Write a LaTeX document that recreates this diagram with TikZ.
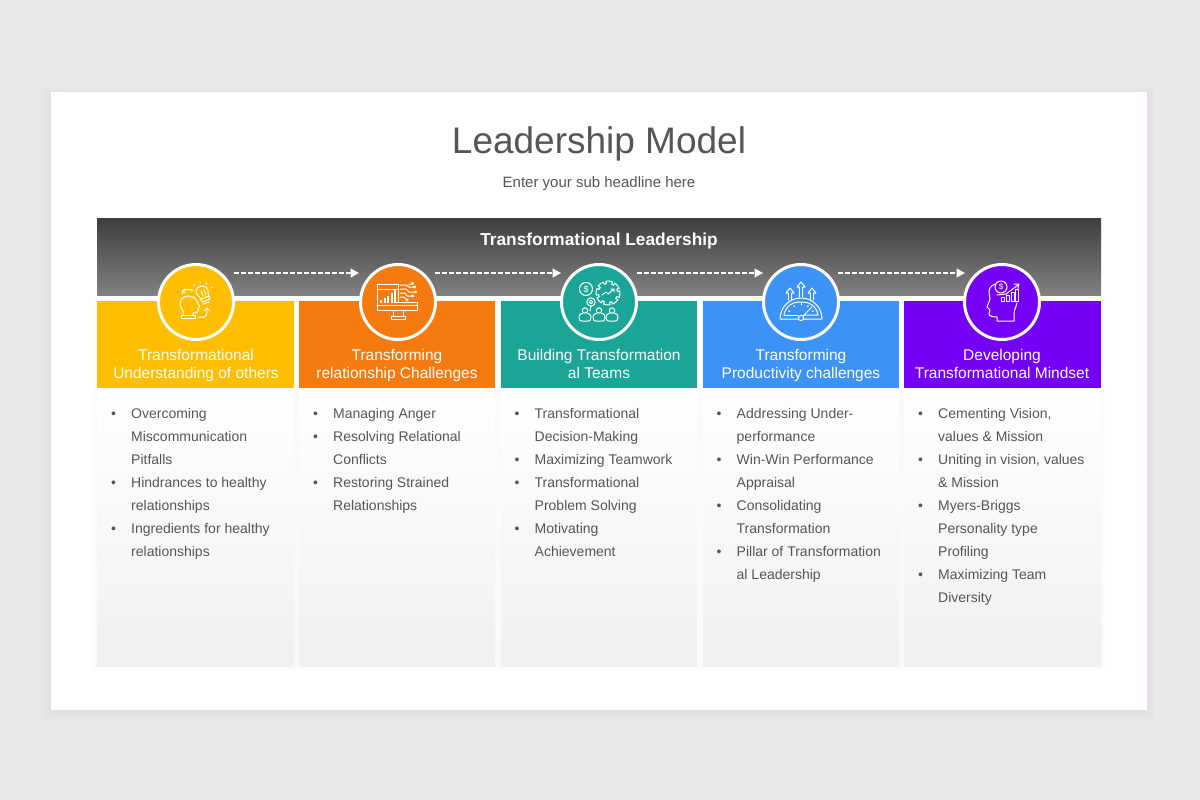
\documentclass[tikz,border=0pt]{standalone}
\usepackage{fontspec}
\setmainfont{Liberation Sans}
\usetikzlibrary{arrows.meta}
\definecolor{pagebg}{HTML}{E9E7E9}
\definecolor{inktext}{HTML}{555555}
\definecolor{cyellow}{HTML}{FFBE00}
\definecolor{corange}{HTML}{F57B10}
\definecolor{cteal}{HTML}{1BA596}
\definecolor{cblue}{HTML}{3D93F5}
\definecolor{cviolet}{HTML}{7500F5}
\definecolor{bandtop}{HTML}{3E3E3E}
\definecolor{bandmid}{HTML}{666666}
\definecolor{bandbot}{HTML}{828282}
\definecolor{bodybot}{HTML}{F0F0F1}
\newcommand{\bul}[1]{\hspace*{-2pt}\makebox[20pt][l]{•}#1\\}
\newcommand{\cnt}[1]{\makebox[18pt][l]{}#1\\}
\newcommand{\softshadow}[6]{%
  \foreach \k in {1,...,#5}{%
    \fill[black,opacity=#6] (#1-\k,#2-\k+3) rectangle (#3+\k,#4+\k+2);}}
\tikzset{
  ic/.style={draw=white,line width=1pt,line cap=round,line join=round,fill=none},
  headcard/.style={minimum height=87pt,inner sep=0pt,outer sep=0pt},
  cardtitle/.style={text=white,font=\fontsize{15.5}{18}\selectfont,align=center,anchor=north,inner sep=0pt},
  listtext/.style={text=inktext,font=\fontsize{14}{23}\selectfont,align=left,anchor=north west,inner sep=0pt},
  disc/.style={circle,draw=white,line width=3pt,minimum size=75pt,inner sep=0pt},
  flow/.style={draw=white,line width=1.3pt,dash pattern=on 5pt off 2pt,-{Triangle[length=8.5pt,width=9pt,fill=white]}}
}
\begin{document}
\begin{tikzpicture}[x=1pt,y=-1pt]
\useasboundingbox (0,0) rectangle (1200,800);
\fill[pagebg] (0,0) rectangle (1200,800);
% slide
\softshadow{51}{92}{1147}{710}{8}{0.005}
\node[fill=white,minimum width=1096pt,minimum height=618pt,inner sep=0pt,outer sep=0pt] (slide) at (599,401) {};
\node[text=inktext,font=\fontsize{37}{44}\selectfont,inner sep=0pt] (title) at (599,144) {Leadership Model};
\node[text=inktext,font=\fontsize{15}{18}\selectfont,inner sep=0pt] (sub) at (599,183.5) {Enter your sub headline here};
% band
\node[top color=bandtop,middle color=bandmid,bottom color=bandbot,minimum width=1004pt,minimum height=78pt,inner sep=0pt,outer sep=0pt] (band) at (599,257) {};
\node[text=white,font=\fontsize{17.3}{20}\selectfont\bfseries,inner sep=0pt] (bandtitle) at (599,241.5) {Transformational Leadership};
\fill[white] (97,296) rectangle (1101,301);
% bodies
\foreach \a/\b in {97/294,299/495,501/697,703/899,904/1101}{
  \softshadow{\a}{388}{\b}{664}{5}{0.004}
}
\foreach \n/\a/\w in {1/97/197,2/299/196,3/501/196,4/703/196,5/904/197}{
  \node[top color=white,bottom color=bodybot,minimum width=\w pt,minimum height=278pt,inner sep=0pt,outer sep=0pt,anchor=north west] (body\n) at (\a,388) {};
}
% coloured cards
\node[headcard,fill=cyellow,minimum width=197pt,anchor=north west] (card1) at (97,301) {};
\node[headcard,fill=corange,minimum width=196pt,anchor=north west] (card2) at (299,301) {};
\node[headcard,fill=cteal,minimum width=196pt,anchor=north west] (card3) at (501,301) {};
\node[headcard,fill=cblue,minimum width=196pt,anchor=north west] (card4) at (703,301) {};
\node[headcard,fill=cviolet,minimum width=197pt,anchor=north west] (card5) at (904,301) {};
\node[cardtitle] (t1) at (196,349.5) {Transformational\\Understanding of others};
\node[cardtitle] (t2) at (397,349.5) {Transforming\\relationship Challenges};
\node[cardtitle] (t3) at (599,349.5) {Building Transformation\\al Teams};
\node[cardtitle] (t4) at (801,349.5) {Transforming\\Productivity challenges};
\node[cardtitle] (t5) at (1002,349.5) {Developing\\Transformational Mindset};
% lists
\node[listtext] (l1) at (113,408) {\bul{Overcoming}\cnt{Miscommunication}\cnt{Pitfalls}\bul{Hindrances to healthy}\cnt{relationships}\bul{Ingredients for healthy}\cnt{relationships}};
\node[listtext] (l2) at (315,408) {\bul{Managing Anger}\bul{Resolving Relational}\cnt{Conflicts}\bul{Restoring Strained}\cnt{Relationships}};
\node[listtext] (l3) at (516.5,408) {\bul{Transformational}\cnt{Decision-Making}\bul{Maximizing Teamwork}\bul{Transformational}\cnt{Problem Solving}\bul{Motivating}\cnt{Achievement}};
\node[listtext] (l4) at (718.5,408) {\bul{Addressing Under-}\cnt{performance}\bul{Win-Win Performance}\cnt{Appraisal}\bul{Consolidating}\cnt{Transformation}\bul{Pillar of Transformation}\cnt{al Leadership}};
\node[listtext] (l5) at (920,408) {\bul{Cementing Vision,}\cnt{values \& Mission}\bul{Uniting in vision, values}\cnt{\& Mission}\bul{Myers-Briggs}\cnt{Personality type}\cnt{Profiling}\bul{Maximizing Team}\cnt{Diversity}};
% discs
\node[disc,fill=cyellow] (c1) at (196,302) {};
\node[disc,fill=corange] (c2) at (398,302) {};
\node[disc,fill=cteal] (c3) at (599,302) {};
\node[disc,fill=cblue] (c4) at (801,302) {};
\node[disc,fill=cviolet] (c5) at (1002,302) {};
% flow arrows
\coordinate (a1) at (234,273); \coordinate (b1) at (359,273);
\coordinate (a2) at (435,273); \coordinate (b2) at (561,273);
\coordinate (a3) at (637,273); \coordinate (b3) at (763,273);
\coordinate (a4) at (838,273); \coordinate (b4) at (965,273);
\draw[flow] (a1) -- (b1);
\draw[flow] (a2) -- (b2);
\draw[flow] (a3) -- (b3);
\draw[flow] (a4) -- (b4);
% icon 1
\begin{scope}[shift={(196,302)}]
  \draw[ic] (-3,13) -- (-3,11) .. controls (2,11) and (3,9) .. (2,6) -- (4,4) -- (2,2) .. controls (1,-4) and (-4,-6) .. (-8,-6) .. controls (-13,-6) and (-16,-2) .. (-16,2) .. controls (-16,5) and (-14,7) .. (-13,9) -- (-13,13);
  \draw[ic] (-15,13) rectangle (-1,16);
  \draw[ic] (5,-3) .. controls (4,-6) and (0,-7) .. (0,-11) .. controls (0,-14) and (3,-16) .. (6,-16) .. controls (10,-16) and (13,-13) .. (12,-9) .. controls (12,-8) and (12,-7) .. (13,-6);
  \draw[ic] (5,-3) -- (13,-6) -- (14,-3) -- (6,0) -- cycle (7,2) -- (13,0);
  \draw[ic] (5,-11) -- (7,-6) (8,-12) -- (10,-7);
  \foreach \ang in {170,135,100,65,30}{\draw[ic,line width=0.8pt] (6,-9) ++(-\ang:10) -- ++(-\ang:2);}
  \draw[ic] (-3,-12) .. controls (-7,-13) and (-13,-13) .. (-14,-8);
  \draw[ic] (-11,-13) -- (-14,-11) -- (-11,-9);
  \draw[ic] (2,15) -- (8,15) .. controls (10,15) and (11,13) .. (11,7);
  \draw[ic] (8,9) -- (11,6) -- (14,9);
\end{scope}
% icon 2
\begin{scope}[shift={(398,302)}]
  \draw[ic] (0,0) -- (0,-18) -- (-21,-18) -- (-21,8) -- (19,8) -- (19,0) -- (-2,0);
  \draw[ic] (-21,-13) -- (0,-13);
  \draw[ic] (-21,3) -- (19,3);
  \draw[ic] (-5,8) -- (-5,14) (5,8) -- (5,14) (-7,14) -- (7,14) -- (7,17) -- (-7,17) -- cycle;
  \foreach \xx/\yy in {-18/-2,-14.5/-4,-11/-6,-7.5/-9,-4/-12}{\fill[white] (\xx,1) rectangle (\xx+2.4,\yy);}
  \draw[ic] (2,-17) -- (8,-17) -- (11,-15) -- (15,-15) (2,-13) -- (8,-13) -- (11,-10) -- (16,-10) (2,-9) -- (7,-9) -- (9,-6) -- (13,-6) (2,-5) -- (6,-5) -- (8,-3) (11,-17) -- (13,-18);
  \foreach \xx/\yy in {16.5/-15,17.5/-10,14.5/-6,9/-2,14.5/-18.5}{\draw[ic,line width=0.8pt] (\xx,\yy) circle (1.2);}
\end{scope}
% icon 3
\begin{scope}[shift={(599,302)}]
  \node[circle,ic,minimum size=13pt,inner sep=0pt,text=white,font=\fontsize{9}{9}\selectfont] (dollar3) at (-13,-13) {\$};
  \foreach \ang in {0,45,...,315}{
    \draw[ic] (9,-9) ++(\ang-10:9.5) -- ++(\ang-10:2.5) arc[start angle=\ang-10,end angle=\ang+22,radius=12] -- ++(\ang+22:-2.5) arc[start angle=\ang+22,end angle=\ang+35,radius=9.5];
  }
  \draw[ic] (3,-7) -- (7,-10) -- (9,-8) -- (15,-13) (12,-13) -- (15,-13) -- (15,-10);
  \draw[ic] (-8,0) circle (4.2);
  \draw[ic] (-8,0) circle (1.8);
  \draw[ic] (-8,4) -- (-9,9);
  \foreach \xx in {-14,0,13}{
    \draw[ic] (\xx,8.5) circle (2.7);
    \draw[ic] (\xx-2.5,11.5) .. controls (\xx-6,12) and (\xx-6,14) .. (\xx-6,16) .. controls (\xx-6,19) and (\xx-4,19) .. (\xx-3,19) -- (\xx+3,19) .. controls (\xx+4,19) and (\xx+6,19) .. (\xx+6,16) .. controls (\xx+6,14) and (\xx+6,12) .. (\xx+2.5,11.5);
  }
\end{scope}
% icon 4
\begin{scope}[shift={(801,302)}]
  \draw[ic] (-21,17) arc[start angle=180,end angle=360,x radius=21,y radius=21] -- cycle;
  \draw[ic] (-17,13) .. controls (-15,3) and (-8,0) .. (0,0) .. controls (8,0) and (15,3) .. (17,13) -- (3,13);
  \draw[ic] (-17,13) -- (-3,13);
  \draw[ic,fill=cblue] (0,16) circle (2.6);
  \draw[ic] (2,14) -- (11,5);
  \foreach \ang in {30,60,90,120,150}{\draw[ic] (0,16)++(-\ang:13) -- ++(-\ang:1.5);}
  \foreach \xx/\yt/\yb in {-11/-14/-2,0/-20/-5,11/-14/-2}{
    \draw[ic] (\xx-1.6,\yb) -- (\xx-1.6,\yt+5) -- (\xx-4,\yt+5) -- (\xx,\yt) -- (\xx+4,\yt+5) -- (\xx+1.6,\yt+5) -- (\xx+1.6,\yb);
  }
\end{scope}
% icon 5
\begin{scope}[shift={(1002,302)}]
  \draw[ic] (-7,-18) .. controls (-11,-16) and (-13,-14) .. (-13,-10) .. controls (-13,-7) and (-12,-5) .. (-12,-3) -- (-15,5) -- (-12,8) -- (-13,12) .. controls (-13,14) and (-9,15) .. (-5,15) -- (-5,19) -- (12,19) -- (12,12) .. controls (12,8) and (14,5) .. (15,1);
  \node[circle,ic,minimum size=12pt,inner sep=0pt,text=white,font=\fontsize{8}{8}\selectfont] (dollar5) at (-1,-15) {\$};
  \draw[ic] (-1,-1) rectangle (2.5,-5);
  \draw[ic] (4,-1) rectangle (7.5,-7);
  \draw[ic] (9,-1) rectangle (12,-10);
  \draw[ic] (13,-1) rectangle (16,-13);
  \draw[ic] (-5,-7) -- (4,-8) -- (16,-17) (12,-18) -- (17,-18) -- (16,-13.5);
\end{scope}
\end{tikzpicture}
\end{document}
